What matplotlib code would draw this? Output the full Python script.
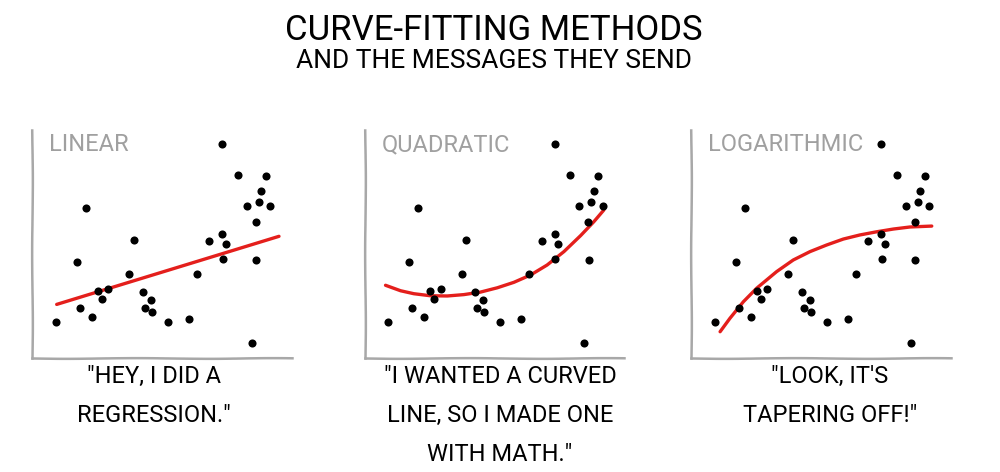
import numpy as np
import matplotlib.pyplot as plt

# scatter data (same points in all three panels), 0-100 frame
x_pts = [9.0, 17.2, 20.8, 18.4, 23.1, 25.2, 26.9, 29.3, 37.4, 39.3, 42.7,
         43.3, 45.8, 46.1, 52.3, 60.3, 63.5, 68.3, 73.3, 73.3, 74.6, 73.4,
         79.2, 82.6, 84.6, 86.1, 86.4, 87.4, 88.3, 90.2, 91.8]
y_pts = [15.5, 41.9, 65.6, 21.8, 17.9, 29.4, 25.6, 30.0, 36.6, 51.5, 28.7,
         21.8, 25.5, 20.1, 15.5, 17.1, 36.6, 51.2, 93.9, 54.5, 49.8, 43.5,
         80.2, 66.6, 6.6, 59.4, 42.9, 68.5, 73.4, 79.8, 66.5]

# fitted curves as drawn in the comic
lin_x = [9.4, 95.1]
lin_y = [23.4, 53.3]
quad_x = [8.1, 13.9, 19.0, 25.4, 31.9, 38.3, 44.7, 51.2, 57.6, 64.0, 70.4,
          76.9, 83.3, 88.4, 92.3]
quad_y = [31.8, 29.4, 28.1, 27.2, 27.1, 27.7, 28.8, 30.7, 33.1, 36.3, 40.7,
          46.6, 53.6, 59.7, 64.9]
log_x = [11.1, 14.9, 20.1, 25.2, 32.9, 39.3, 45.8, 52.2, 58.6, 65.0, 71.5,
         77.9, 84.3, 92.7]
log_y = [11.4, 17.3, 24.6, 30.5, 37.8, 42.9, 46.6, 49.5, 52.1, 53.9, 55.3,
         56.5, 57.4, 57.8]

panel_names = ['LINEAR', 'QUADRATIC', 'LOGARITHMIC']
captions = ['"HEY, I DID A\nREGRESSION."',
            '"I WANTED A CURVED\nLINE, SO I MADE ONE\nWITH MATH."',
            '"LOOK, IT\'S\nTAPERING OFF!"']
fits = [(lin_x, lin_y), (quad_x, quad_y), (log_x, log_y)]

plt.rcParams['font.family'] = ['Roboto', 'DejaVu Sans']

fig = plt.figure(figsize=(10, 4.72), dpi=100)
fig.patch.set_facecolor('white')

fig.text(0.4935, 1 - 31 / 472, 'CURVE-FITTING METHODS', ha='center',
         va='center', fontsize=25, color='black')
fig.text(0.4935, 1 - 61 / 472, 'AND THE MESSAGES THEY SEND', ha='center',
         va='center', fontsize=19, color='black')

lefts = [0.0323, 0.3645, 0.6913]
centers = [154, 500, 830]
for i in range(3):
    ax = fig.add_axes([lefts[i], 0.2422, 0.2594, 0.4824])
    ax.set_xlim(0, 100)
    ax.set_ylim(0, 100)
    ax.scatter(x_pts, y_pts, s=34, color='black', zorder=3, linewidths=0)
    fx, fy = fits[i]
    ax.plot(fx, fy, color='#e41f1c', lw=2.4, solid_capstyle='round',
            solid_joinstyle='round', zorder=2)
    ax.text(6.5, 93.5, panel_names[i], color='#a0a0a0', fontsize=17,
            ha='left', va='center')
    for side in ['top', 'right']:
        ax.spines[side].set_visible(False)
    for side in ['left', 'bottom']:
        ax.spines[side].set_color('#a8a8a8')
        ax.spines[side].set_linewidth(1.8)
        ax.spines[side].set_sketch_params(0.35, 150, 2)
    ax.set_xticks([])
    ax.set_yticks([])
    ax.patch.set_alpha(0)

    fig.text(centers[i] / 1000, 1 - 365 / 472, captions[i], ha='center',
             va='top', ma='center', fontsize=17, color='black',
             linespacing=1.9)

fig.savefig('out.png', dpi=100)
